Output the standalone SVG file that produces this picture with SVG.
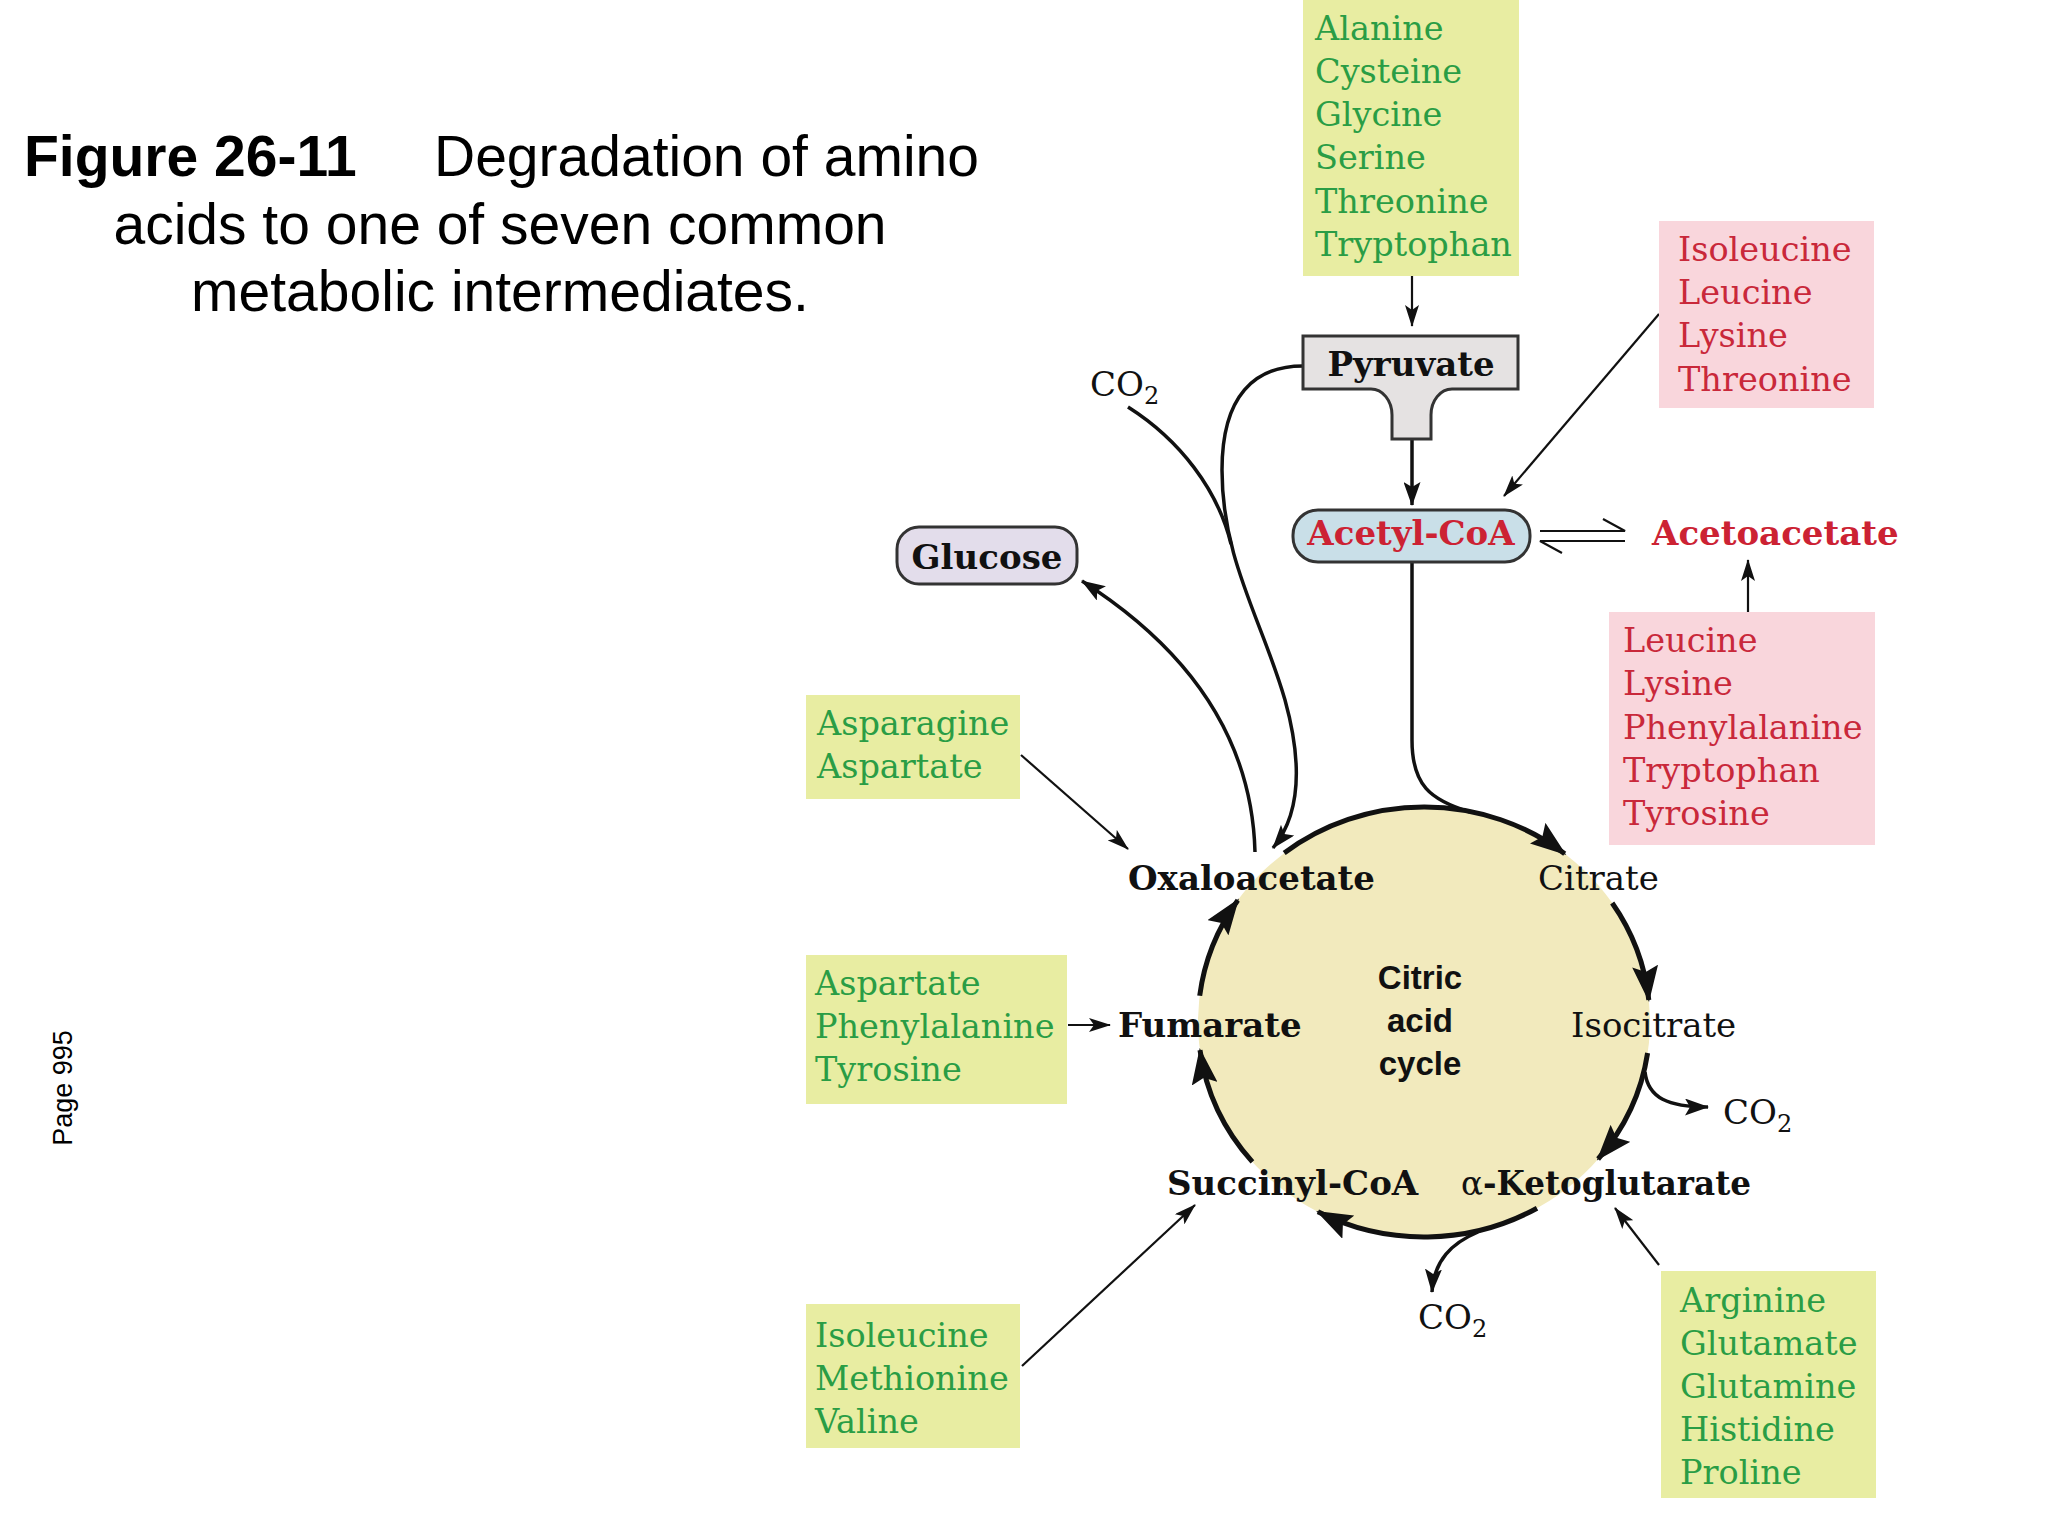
<svg xmlns="http://www.w3.org/2000/svg" width="2048" height="1536" viewBox="0 0 2048 1536">
<style>
.title{font-family:"Liberation Sans",Arial,sans-serif;font-size:57px;fill:#000}
.aa{font-family:"DejaVu Serif",serif;font-size:33.5px}
.g{fill:#2a9d45}
.r{fill:#c9283a}
.lbl{font-family:"DejaVu Serif",serif;font-size:34px;fill:#111}
.b{font-weight:bold}
.gbox{fill:#e8eda2}
.pbox{fill:#f9d6dc}
.thin{fill:none;stroke:#111;stroke-width:2.2}
.med{fill:none;stroke:#111;stroke-width:3.5}
.cyc{fill:none;stroke:#111;stroke-width:5}
.node{stroke:#333;stroke-width:3}
.cac{font-family:"Liberation Sans",Arial,sans-serif;font-weight:bold;font-size:33px;fill:#111;text-anchor:middle}
.sub{font-size:24px}
.red{fill:#cc2233}
</style>
<defs>
<marker id="ahThin" markerUnits="userSpaceOnUse" markerWidth="22" markerHeight="14" viewBox="0 0 22 14" refX="21" refY="7" orient="auto"><path d="M0,0 L22,7 L0,14 L5,7 z" fill="#111"/></marker>
<marker id="ahMed" markerUnits="userSpaceOnUse" markerWidth="24" markerHeight="17" viewBox="0 0 24 17" refX="23" refY="8.5" orient="auto"><path d="M0,0 L24,8.5 L0,17 L5,8.5 z" fill="#111"/></marker>
<marker id="ahBig" markerUnits="userSpaceOnUse" markerWidth="36" markerHeight="26" viewBox="0 0 36 26" refX="34" refY="13" orient="auto"><path d="M0,0 L36,13 L0,26 L6,13 z" fill="#111"/></marker>
</defs>
<rect width="2048" height="1536" fill="#fff"/>

<g id="title">
<text class="title" x="24" y="176" font-weight="bold">Figure 26-11</text>
<text class="title" x="434" y="176">Degradation of amino</text>
<text class="title" x="500" y="244" text-anchor="middle">acids to one of seven common</text>
<text class="title" x="500" y="311" text-anchor="middle">metabolic intermediates.</text>
</g>
<g id="page">
<text x="72" y="1088" transform="rotate(-90 72 1088)" text-anchor="middle" font-family="Liberation Sans, Arial, sans-serif" font-size="27" fill="#000">Page 995</text>
</g>

<g id="cycle">
<ellipse cx="1424" cy="1022" rx="226" ry="215" fill="#f2eabd"/>
<text class="cac" x="1420" y="989">Citric</text>
<text class="cac" x="1420" y="1032">acid</text>
<text class="cac" x="1420" y="1075">cycle</text>
</g>

<g id="connectors">
<path class="thin" d="M1412,276 L1412,326" marker-end="url(#ahThin)"/>
<path class="med" d="M1412,439 L1412,505" marker-end="url(#ahMed)"/>
<path class="thin" d="M1659,314 L1504,496" marker-end="url(#ahThin)"/>
<path class="thin" d="M1748,612 L1748,560" marker-end="url(#ahThin)"/>
<path class="thin" d="M1540,531 H1625 L1603,519"/>
<path class="thin" d="M1625,541 H1540 L1562,553"/>
<path class="med" d="M1303,366 C1255,366 1222,395 1222,470 C1222,560 1262,620 1285,700 C1303,765 1300,815 1273,848" marker-end="url(#ahMed)"/>
<path class="med" d="M1128,407 C1180,440 1218,490 1231,544"/>
<path class="med" d="M1255,852 C1252,740 1190,650 1082,581" marker-end="url(#ahMed)"/>
<path class="med" d="M1412,562 V740 C1412,785 1430,800 1470,812"/>
<path class="thin" d="M1021,755 L1128,849" marker-end="url(#ahThin)"/>
<path class="thin" d="M1068,1025 L1110,1025" marker-end="url(#ahThin)"/>
<path class="thin" d="M1022,1366 L1195,1205" marker-end="url(#ahThin)"/>
<path class="thin" d="M1659,1265 L1615,1208" marker-end="url(#ahThin)"/>
<path class="cyc" d="M1284.2,853 A226 215 0 0 1 1564.7,853.7" marker-end="url(#ahBig)"/>
<path class="cyc" d="M1612.2,903 A226 215 0 0 1 1648.8,999.9" marker-end="url(#ahBig)"/>
<path class="cyc" d="M1647.6,1053 A226 215 0 0 1 1598.1,1159" marker-end="url(#ahBig)"/>
<path class="cyc" d="M1537,1208.2 A226 215 0 0 1 1317.9,1211.8" marker-end="url(#ahBig)"/>
<path class="cyc" d="M1252.4,1161.9 A226 215 0 0 1 1200,1050.1" marker-end="url(#ahBig)"/>
<path class="cyc" d="M1199.7,995.8 A226 215 0 0 1 1237.8,900.2" marker-end="url(#ahBig)"/>
<path class="med" d="M1645,1072 C1648,1098 1668,1107 1708,1107" marker-end="url(#ahMed)"/>
<path class="med" d="M1478,1232 C1452,1243 1434,1260 1432,1292" marker-end="url(#ahMed)"/>
</g>

<g id="box-pyruvate-sources">
<rect class="gbox" x="1303" y="0" width="216" height="276"/>
<g class="aa g">
<text x="1315" y="40">Alanine</text>
<text x="1315" y="83">Cysteine</text>
<text x="1315" y="126">Glycine</text>
<text x="1315" y="169">Serine</text>
<text x="1315" y="213">Threonine</text>
<text x="1315" y="256">Tryptophan</text>
</g>
</g>
<g id="box-acetylcoa-sources">
<rect class="pbox" x="1659" y="221" width="215" height="187"/>
<g class="aa r">
<text x="1678" y="261">Isoleucine</text>
<text x="1678" y="304">Leucine</text>
<text x="1678" y="347">Lysine</text>
<text x="1678" y="391">Threonine</text>
</g>
</g>
<g id="box-acetoacetate-sources">
<rect class="pbox" x="1609" y="612" width="266" height="233"/>
<g class="aa r">
<text x="1623" y="652">Leucine</text>
<text x="1623" y="695">Lysine</text>
<text x="1623" y="739">Phenylalanine</text>
<text x="1623" y="782">Tryptophan</text>
<text x="1623" y="825">Tyrosine</text>
</g>
</g>
<g id="box-oxaloacetate-sources">
<rect class="gbox" x="806" y="695" width="214" height="104"/>
<g class="aa g">
<text x="817" y="735">Asparagine</text>
<text x="817" y="778">Aspartate</text>
</g>
</g>
<g id="box-fumarate-sources">
<rect class="gbox" x="806" y="955" width="261" height="149"/>
<g class="aa g">
<text x="815" y="995">Aspartate</text>
<text x="815" y="1038">Phenylalanine</text>
<text x="815" y="1081">Tyrosine</text>
</g>
</g>
<g id="box-succinylcoa-sources">
<rect class="gbox" x="806" y="1304" width="214" height="144"/>
<g class="aa g">
<text x="815" y="1347">Isoleucine</text>
<text x="815" y="1390">Methionine</text>
<text x="815" y="1433">Valine</text>
</g>
</g>
<g id="box-ketoglutarate-sources">
<rect class="gbox" x="1661" y="1271" width="215" height="227"/>
<g class="aa g">
<text x="1680" y="1312">Arginine</text>
<text x="1680" y="1355">Glutamate</text>
<text x="1680" y="1398">Glutamine</text>
<text x="1680" y="1441">Histidine</text>
<text x="1680" y="1484">Proline</text>
</g>
</g>

<g id="pyruvate">
<path class="node" fill="#e5e2e2" d="M1303,336 H1518 V389 H1452 A21 26 0 0 0 1431,415 V439 H1392 V415 A21 26 0 0 0 1371,389 H1303 Z"/>
<text class="lbl b" x="1411" y="376" text-anchor="middle">Pyruvate</text>
</g>
<g id="acetylcoa">
<rect class="node" x="1293" y="510" width="237" height="52" rx="25" ry="25" fill="#c9dfe8"/>
<text class="lbl b red" x="1411" y="545" text-anchor="middle">Acetyl-CoA</text>
</g>
<g id="acetoacetate">
<text class="lbl b red" x="1652" y="545">Acetoacetate</text>
</g>
<g id="glucose">
<rect class="node" x="897" y="527" width="180" height="57" rx="22" ry="22" fill="#e3ddeb"/>
<text class="lbl b" x="987" y="569" text-anchor="middle">Glucose</text>
</g>
<g id="co2-top"><text class="lbl" x="1090" y="396">CO<tspan class="sub" dy="8">2</tspan></text></g>
<g id="co2-right"><text class="lbl" x="1723" y="1124">CO<tspan class="sub" dy="8">2</tspan></text></g>
<g id="co2-bottom"><text class="lbl" x="1418" y="1329">CO<tspan class="sub" dy="8">2</tspan></text></g>
<g id="oxaloacetate"><text class="lbl b" x="1128" y="890">Oxaloacetate</text></g>
<g id="citrate"><text class="lbl" x="1538" y="890">Citrate</text></g>
<g id="fumarate"><text class="lbl b" x="1118" y="1037">Fumarate</text></g>
<g id="isocitrate"><text class="lbl" x="1571" y="1037">Isocitrate</text></g>
<g id="succinylcoa"><text class="lbl b" x="1167" y="1195">Succinyl-CoA</text></g>
<g id="ketoglutarate"><text class="lbl b" x="1461" y="1195" textLength="290" lengthAdjust="spacingAndGlyphs"><tspan font-weight="normal">α</tspan>-Ketoglutarate</text></g>
</svg>
